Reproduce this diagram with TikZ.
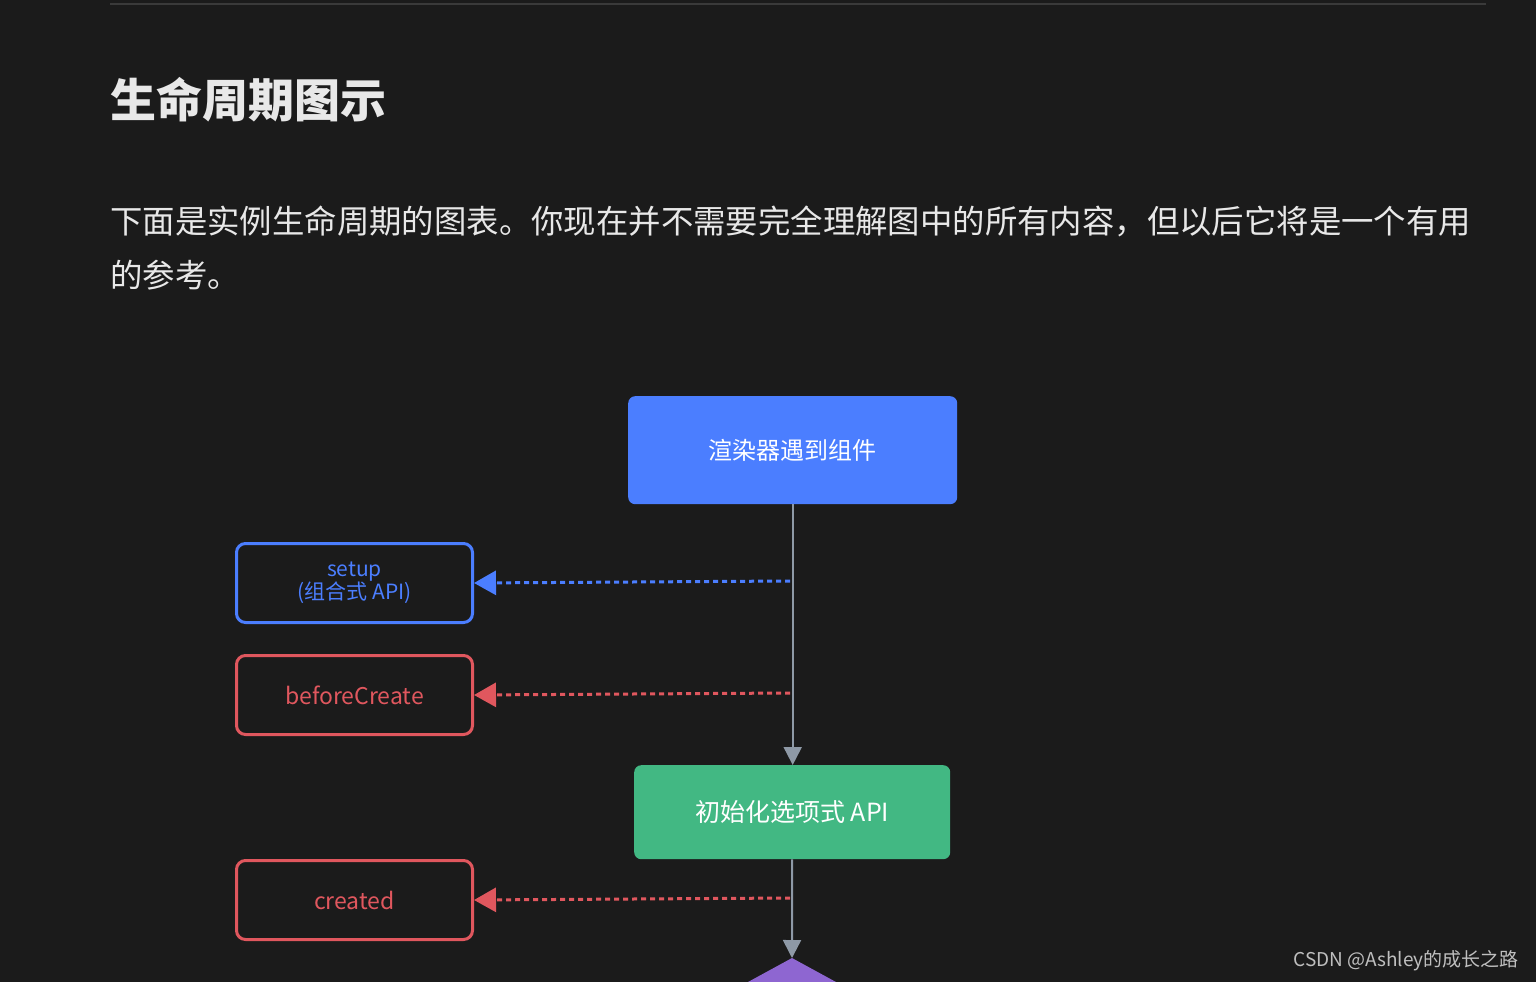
\documentclass[tikz,border=0pt]{standalone}
\usepackage{fontspec}
\setmainfont{Noto Sans CJK SC}
\usetikzlibrary{arrows.meta}
\definecolor{bg}{HTML}{1B1B1B}
\definecolor{vblue}{HTML}{4B7EFF}
\definecolor{vred}{HTML}{E0575E}
\definecolor{vgreen}{HTML}{42B883}
\definecolor{vgray}{HTML}{8E99A6}
\definecolor{vpurple}{HTML}{8E66D1}
\definecolor{txt}{HTML}{E8E8E8}
\definecolor{rule}{HTML}{3A3A3A}
\begin{document}
\begin{tikzpicture}[x=1pt,y=-1pt,
  hook/.style={draw,line width=3pt,rounded corners=9pt,minimum width=236pt,minimum height=79pt,anchor=north west,align=center,font=\fontsize{21}{23}\selectfont,inner sep=0pt},
  flow/.style={rounded corners=7pt,anchor=north west,text=white,inner sep=0pt,font=\fontsize{24}{28}\selectfont},
  dots/.style={line width=3pt,dash pattern=on 5pt off 4pt,-{Triangle[length=22pt,width=24pt]}},
  main/.style={vgray,line width=2pt,-{Triangle[length=18pt,width=18pt]}}]
\useasboundingbox[fill=bg] (0,0) rectangle (1536,982);
\draw[line width=2pt,color=rule] (110,4) -- (1486,4);
\node[anchor=west,text=txt,font=\fontsize{46}{50}\selectfont\bfseries,inner sep=0pt] (title) at (110,100) {生命周期图示};
\node[anchor=west,text=txt,font=\fontsize{32.4}{36}\selectfont,inner sep=0pt] (p1) at (110,221) {下面是实例生命周期的图表。你现在并不需要完全理解图中的所有内容，但以后它将是一个有用};
\node[anchor=west,text=txt,font=\fontsize{32.4}{36}\selectfont,inner sep=0pt] (p2) at (110,275) {的参考。};
\node[flow,fill=vblue,minimum width=329pt,minimum height=108pt] (render) at (628,396) {渲染器遇到组件};
\node[flow,fill=vgreen,minimum width=316pt,minimum height=94pt,font=\fontsize{25}{28}\selectfont] (init) at (634,765) {初始化选项式 API};
\node[hook,vblue,text=vblue] (setup) at (235,542) {setup\\(组合式 API)};
\node[hook,vred,text=vred,font=\fontsize{23}{26}\selectfont] (bc) at (235,654) {beforeCreate};
\node[hook,vred,text=vred,font=\fontsize{23}{26}\selectfont] (cr) at (235,859) {created};
\coordinate (c1) at (790,581);
\coordinate (c2) at (790,693);
\coordinate (c3) at (790,898);
\coordinate (dtop) at (792,958);
\draw[main] (render.south) -- (render.south |- init.north);
\draw[main] (init.south) -- (dtop);
\fill[vpurple] (748,982) -- (dtop) -- (836,982) -- cycle;
\draw[dots,vblue] (c1) -- (setup.east);
\draw[dots,vred] (c2) -- (bc.east);
\draw[dots,vred] (c3) -- (cr.east);
\node[anchor=east,text=white!75!black,font=\fontsize{19}{21}\selectfont,inner sep=0pt] (wm) at (1519,961) {CSDN @Ashley的成长之路};
\end{tikzpicture}
\end{document}
